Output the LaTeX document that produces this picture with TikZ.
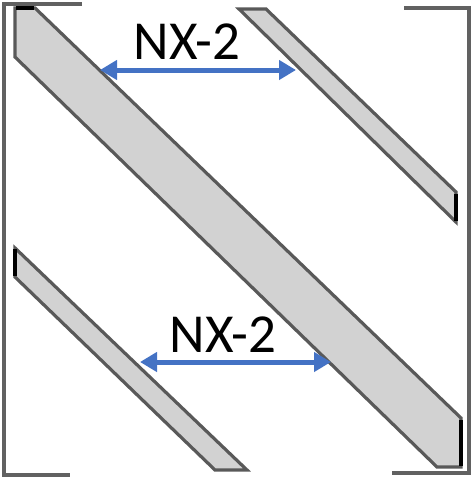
\documentclass[tikz,border=0pt]{standalone}
\usepackage{fontspec}
\setmainfont{Carlito}
\usetikzlibrary{arrows.meta}
\definecolor{spanblue}{RGB}{68,114,196}
\begin{document}
\begin{tikzpicture}[x=1pt,y=-1pt,
	band/.style={fill=gray!35, draw=black!65, line width=3.2pt, line join=miter},
	band end/.style={draw=black, line width=4pt},
	bracket/.style={draw=black!62, line width=4pt},
	span/.style={{Triangle[length=17pt,width=19pt]}-{Triangle[length=17pt,width=19pt]}, draw=spanblue, line width=5pt},
	width label/.style={font=\fontsize{55}{60}\selectfont, inner sep=0pt}]
\useasboundingbox (0,0) rectangle (474,482);

% brackets
\draw[bracket] (82,4) -- (4,4) -- (4,475) -- (70,475);
\draw[bracket] (404,8) -- (469,8) -- (469,473) -- (392,473);

% bands
\draw[band] (15,8) -- (35,8) -- (461,418) -- (461,467) -- (437,467) -- (15,57) -- cycle;
\draw[band] (239,9) -- (266,9) -- (456,192) -- (456,222) -- cycle;
\draw[band] (15,248) -- (247,470) -- (215,470) -- (15,277) -- cycle;
\draw[band end] (461,420) -- (461,466);
\draw[band end] (456,194) -- (456,221);
\draw[band end] (15,249) -- (15,276);
\draw[band end] (16,8) -- (34,8);

% widths
\coordinate (upper left) at (100,70);
\coordinate (upper right) at (296,70);
\coordinate (lower left) at (140,362);
\coordinate (lower right) at (331,362);
\draw[span] (upper left) -- (upper right);
\draw[span] (lower left) -- (lower right);
\node[width label] (upper width) at (187,42) {NX-2};
\node[width label] (lower width) at (223,335) {NX-2};
\end{tikzpicture}
\end{document}
